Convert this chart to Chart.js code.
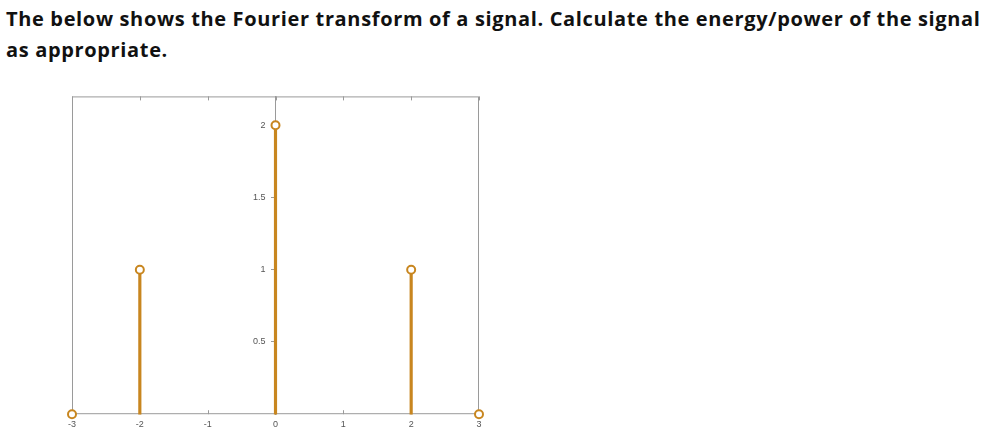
<!DOCTYPE html>
<html>
<head>
<meta charset="utf-8">
<script src="https://cdn.jsdelivr.net/npm/chart.js@4/dist/chart.umd.min.js"></script>
<style>
  html, body { margin: 0; padding: 0; background: #fff; }
  body { width: 983px; height: 435px; position: relative; overflow: hidden; }
  #question {
    position: absolute; left: 6px; top: 3px; width: 990px; white-space: nowrap;
    font-family: "Open Sans", "Noto Sans", sans-serif; font-weight: bold;
    font-size: 20px; line-height: 31px; color: #111; letter-spacing: 0.65px;
  }
  #wrap { position: absolute; left: 50px; top: 88px; width: 452px; height: 348px; }
</style>
</head>
<body>
<div id="question">The below shows the Fourier transform of a signal. Calculate the energy/power of the signal<br>as appropriate.</div>
<div id="wrap"><canvas id="spectrum"></canvas></div>
<script>
// Stem plot data (frequency, magnitude)
const freqs = [-3, -2, 0, 2, 3];
const mags = [0, 1, 2, 1, 0];
const xTicks = [-3, -2, -1, 0, 1, 2, 3];
const yTicks = [0.5, 1, 1.5, 2];

const stemColor = '#c8861f';
const axisGray = '#9a9a9a';

const points = freqs.map((f, i) => ({ x: f, y: mags[i] }));

// Box around the plot area plus inward x ticks on top and bottom
const boxPlugin = {
    id: 'box',
    beforeDatasetsDraw(chart) {
        const { ctx, chartArea: a, scales } = chart;
        ctx.save();
        ctx.strokeStyle = axisGray;
        ctx.lineWidth = 1;
        ctx.strokeRect(a.left + 0.5, a.top + 0.5, a.right - a.left - 1, a.bottom - a.top - 1);
        ctx.beginPath();
        xTicks.forEach(t => {
            const px = Math.round(scales.x.getPixelForValue(t)) + 0.5;
            ctx.moveTo(px, a.bottom);
            ctx.lineTo(px, a.bottom - 4);
            ctx.moveTo(px, a.top);
            ctx.lineTo(px, a.top + 4);
        });
        ctx.stroke();
        ctx.restore();
    }
};

const spectrumChart = new Chart(
    document.getElementById('spectrum'),
    {
        type: 'bar',
        data: {
            datasets: [
                {
                    type: 'scatter',
                    data: points,
                    borderColor: stemColor,
                    backgroundColor: '#fff',
                    borderWidth: 2,
                    pointRadius: 4,
                    clip: false,
                    order: 0
                },
                {
                    type: 'bar',
                    data: points,
                    backgroundColor: stemColor,
                    barThickness: 2.5,
                    clip: false,
                    order: 1
                }
            ]
        },
        options: {
            responsive: true,
            maintainAspectRatio: false,
            animation: false,
            layout: { padding: { left: 22, right: 23, top: 8, bottom: 1 } },
            plugins: {
                legend: { display: false },
                tooltip: { enabled: false }
            },
            scales: {
                x: {
                    type: 'linear',
                    min: -3,
                    max: 3,
                    offset: false,
                    afterBuildTicks: s => { s.ticks = xTicks.map(v => ({ value: v })); },
                    grid: { display: false, drawTicks: false },
                    border: { display: false },
                    ticks: {
                        color: '#555',
                        padding: 5,
                        font: { family: 'Liberation Sans', size: 9 }
                    }
                },
                y: {
                    min: 0,
                    max: 2.2,
                    position: { x: 0 },
                    afterBuildTicks: s => { s.ticks = yTicks.map(v => ({ value: v })); },
                    grid: { drawOnChartArea: false, tickLength: 4, color: axisGray },
                    border: { color: axisGray },
                    ticks: {
                        color: '#555',
                        // trailing spaces keep the labels clear of the centred axis
                        callback: v => v + '    ',
                        font: { family: 'Liberation Sans', size: 9 }
                    }
                }
            }
        },
        plugins: [boxPlugin]
    }
);
</script>
</body>
</html>
